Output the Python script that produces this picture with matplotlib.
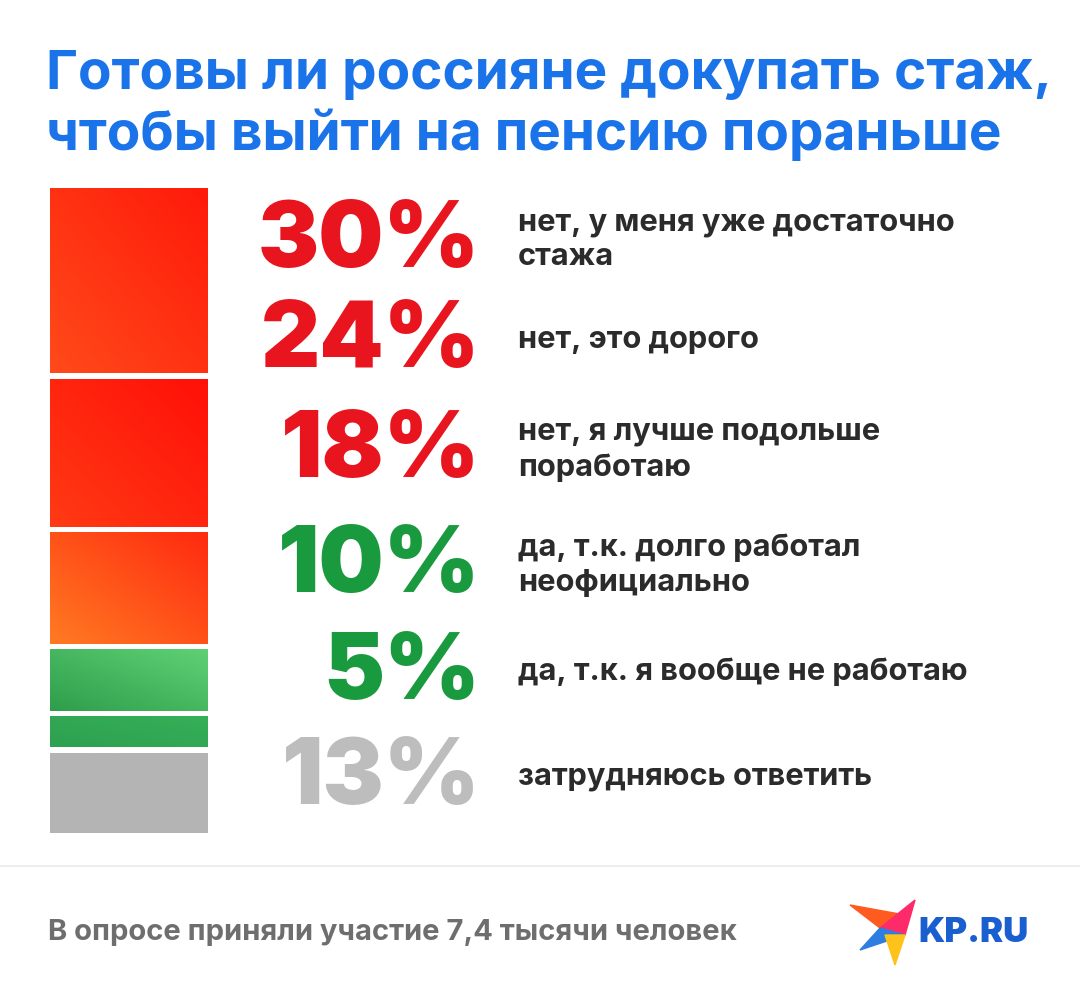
import numpy as np
import matplotlib.pyplot as plt
from matplotlib.patches import Polygon

title = "Готовы ли россияне докупать стаж,\nчтобы выйти на пенсию пораньше"
values = [30, 24, 18, 10, 5, 13]
labels = ["нет, у меня уже достаточно\nстажа", "нет, это дорого",
          "нет, я лучше подольше\nпоработаю", "да, т.к. долго работал\nнеофициально",
          "да, т.к. я вообще не работаю", "затрудняюсь ответить"]
text_y = [240, 340, 450, 565, 672, 777]
footer = "В опросе приняли участие 7,4 тысячи человек"

grads = [("#ff4a1a", "#ff1a0a"), ("#ff3a14", "#ff1008"), ("#ff7a22", "#ff2a10"),
         ("#2e9e4c", "#5fd174"), ("#2ea050", "#35b058"), ("#b4b4b4", "#b4b4b4")]
pct_colors = ["#e8141e", "#e8141e", "#e8141e", "#1a9a3e", "#1a9a3e", "#bdbdbd"]

W, H = 1080, 1002
fig = plt.figure(figsize=(W / 100, H / 100), dpi=100)
ax = fig.add_axes([0, 0, 1, 1])
ax.set_xlim(0, W)
ax.set_ylim(H, 0)
ax.axis("off")

for i, line in enumerate(title.split("\n")):
    ax.text(46, 75 + 60 * i, line, fontsize=39.5, fontweight="bold", color="#1a73e8",
            family="Inter", va="center")

top, bottom, gap = 188, 833, 5.5
scale = (bottom - top - gap * (len(values) - 1)) / sum(values)
y = top
for v, (c1, c2) in zip(values, grads):
    h = v * scale
    bars = ax.bar(129, h, width=158, bottom=y, color="none", align="center")
    rect = bars[0]
    cmap = plt.matplotlib.colors.LinearSegmentedColormap.from_list("g", [c1, c2])
    gx, gy = np.meshgrid(np.linspace(0, 1, 50), np.linspace(0, 1, 50))
    im = ax.imshow((gx + (1 - gy)) / 2, cmap=cmap, extent=(50, 208, y + h, y),
                   aspect="auto", zorder=2, vmin=0, vmax=1)
    im.set_clip_path(rect)
    y += h + gap
ax.set_xlim(0, W)
ax.set_ylim(H, 0)

for v, lab, ty, pc in zip(values, labels, text_y, pct_colors):
    ax.text(480, ty + 3, f"{v}%", fontsize=66, fontweight="black", family="Inter",
            color=pc, ha="right", va="center")
    ax.text(518, ty, lab, fontsize=22.2, fontweight="bold", family="Inter",
            color="#2b2b2b", va="center", linespacing=1.3)

ax.plot([0, W], [866, 866], color="#eeeeee", lw=1.5)
ax.text(48, 932, footer, fontsize=21, fontweight="bold", family="Inter",
        color="#6e6e6e", va="center")

# logo
ax.add_patch(Polygon([(850, 905), (905, 915), (880, 928)], color="#ff5a1f", zorder=3))
ax.add_patch(Polygon([(880, 928), (915, 900), (905, 935)], color="#ff2a6a", zorder=3))
ax.add_patch(Polygon([(880, 928), (905, 935), (860, 950)], color="#2e7de0", zorder=3))
ax.add_patch(Polygon([(885, 935), (905, 935), (895, 965)], color="#ffc21a", zorder=3))
ax.text(918, 933, "KP.RU", fontsize=25, fontweight="black", family="Inter",
        color="#1a5fd0", va="center")

fig.savefig("out.png", dpi=100)
